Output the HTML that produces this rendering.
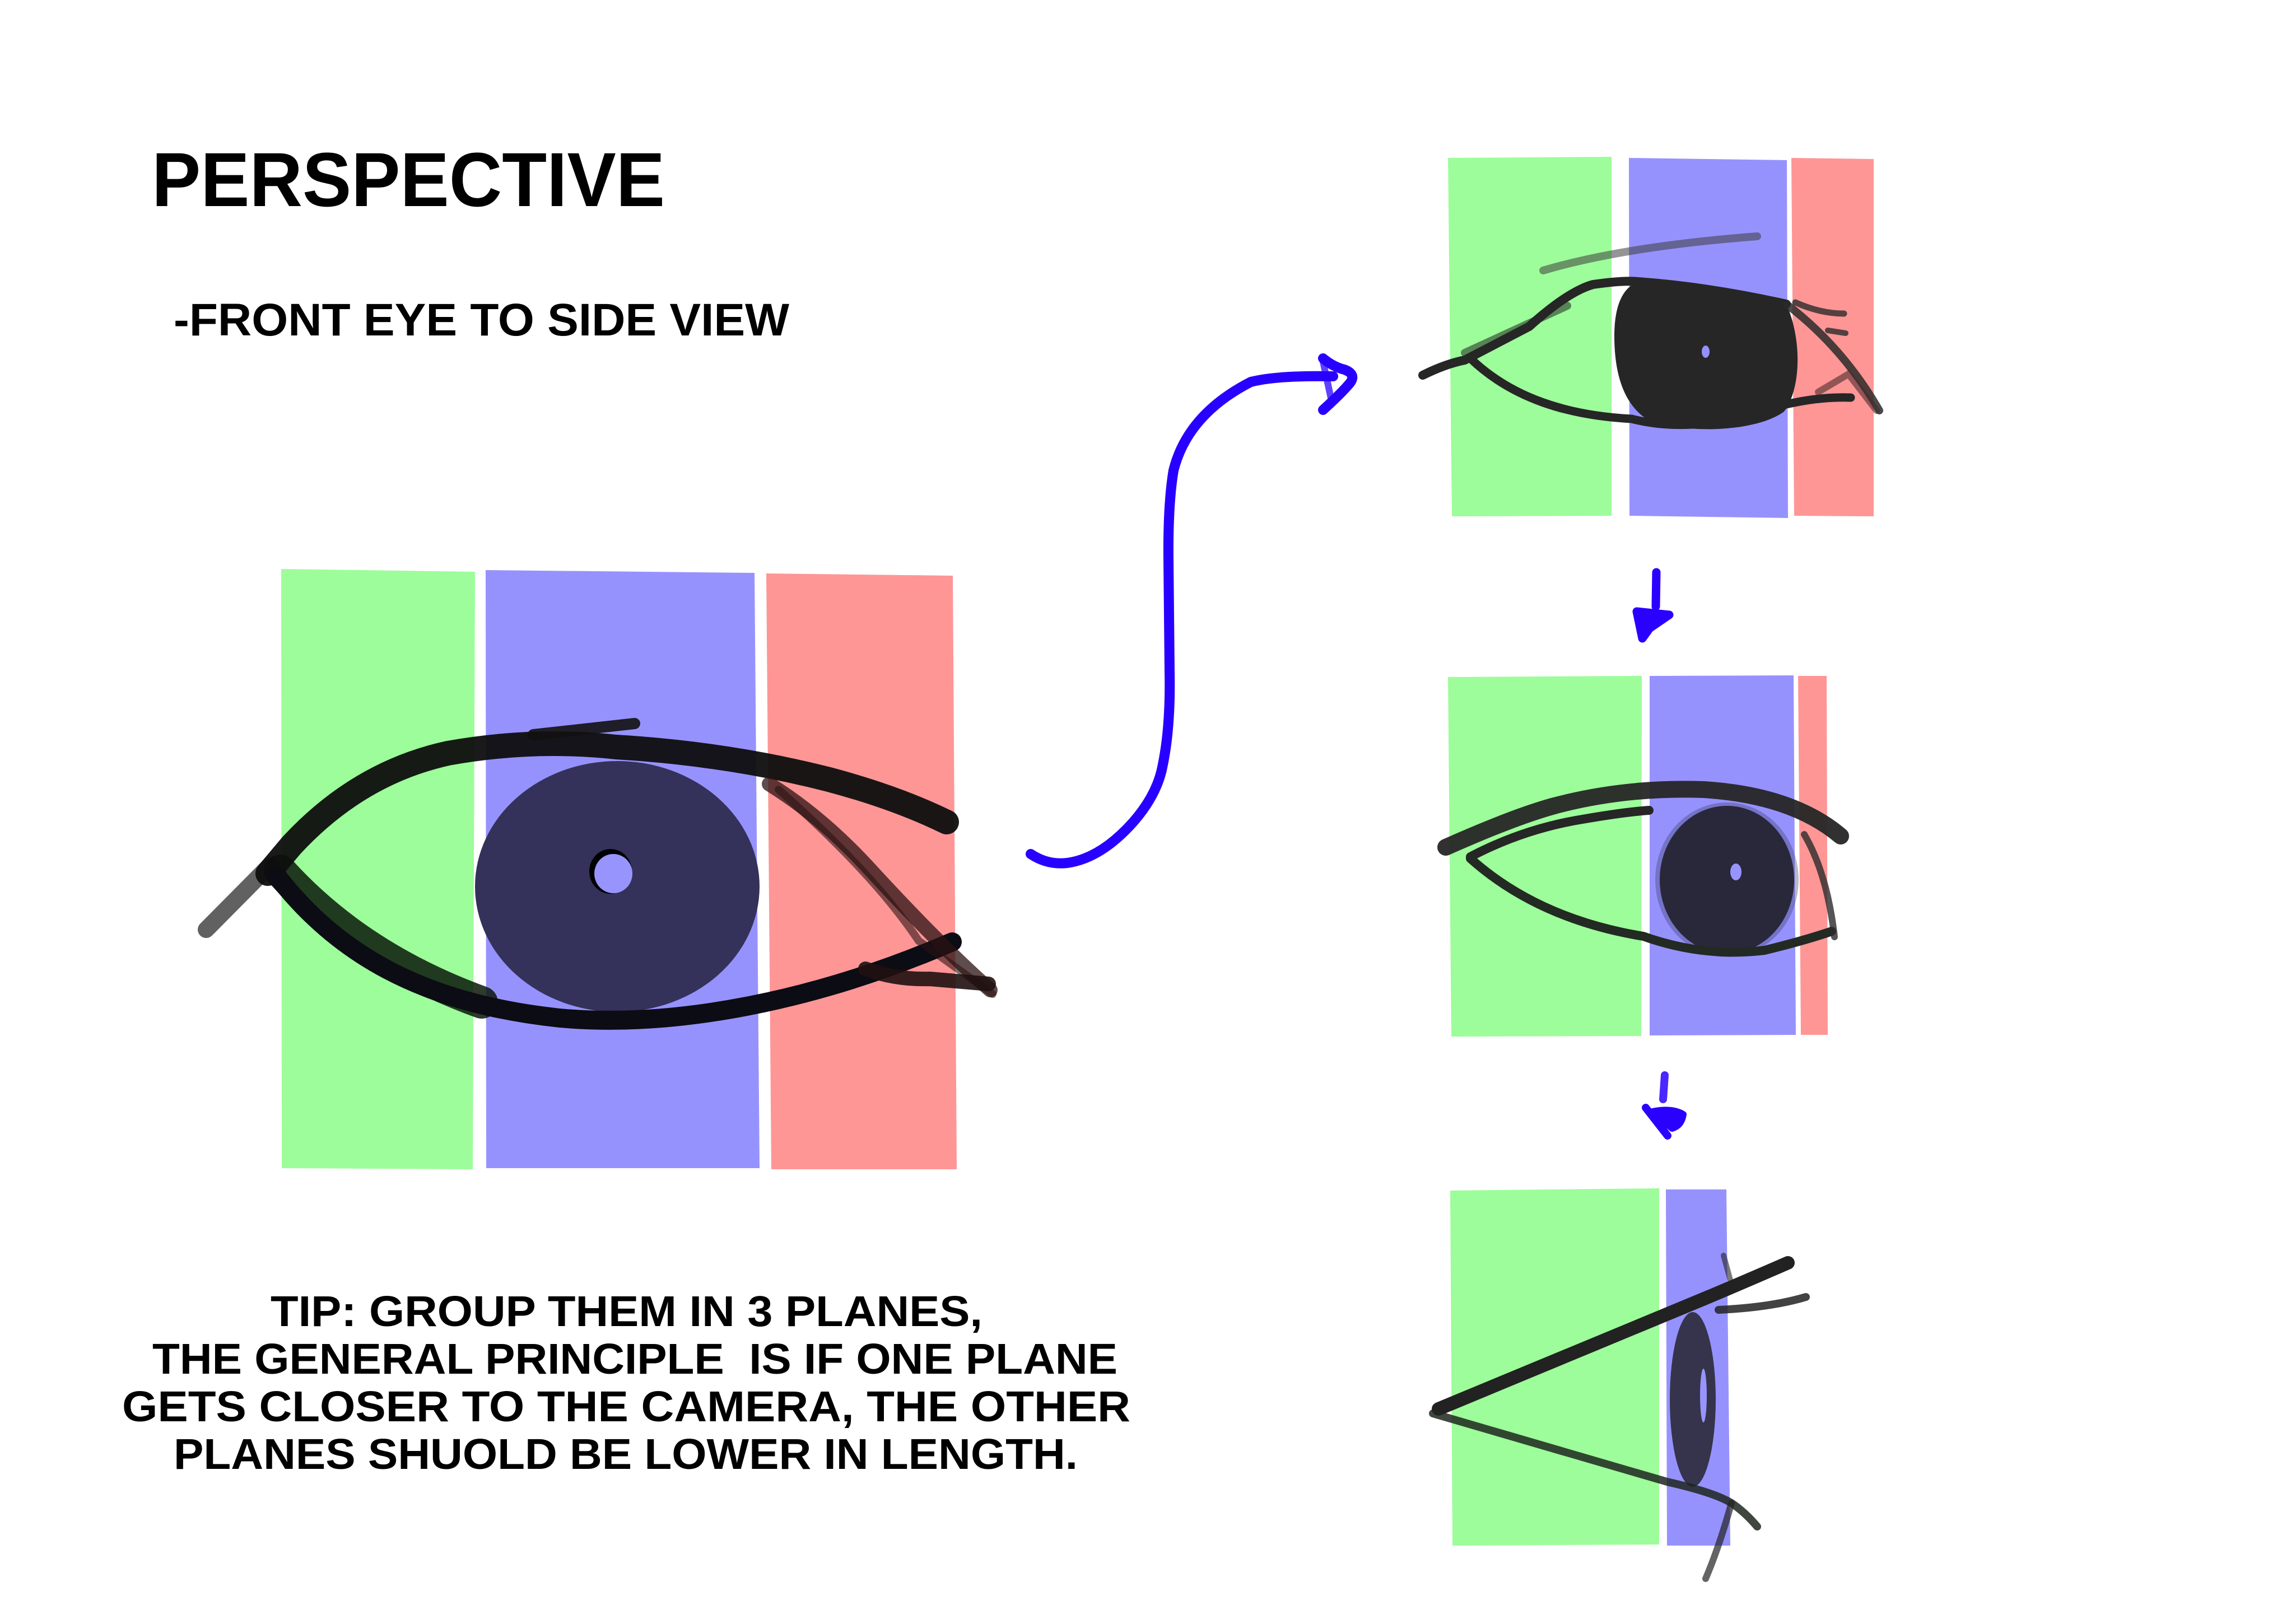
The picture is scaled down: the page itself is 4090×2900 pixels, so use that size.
<!DOCTYPE html>
<html>
<head>
<meta charset="utf-8">
<style>
  html,body{margin:0;padding:0;background:#fff;}
  body{width:4090px;height:2900px;overflow:hidden;}
  svg{display:block;}
  text{font-family:"Liberation Sans", "DejaVu Sans", sans-serif;font-weight:bold;fill:#000;}
</style>
</head>
<body>
<svg width="4090" height="2900" viewBox="0 0 4090 2900" xmlns="http://www.w3.org/2000/svg">
  <rect width="4090" height="2900" fill="#fff"/>

  <!-- Text -->
  <text x="271" y="368" font-size="137" textLength="916" lengthAdjust="spacingAndGlyphs">PERSPECTIVE</text>
  <text x="310" y="599" font-size="82" textLength="1099" lengthAdjust="spacingAndGlyphs">-FRONT EYE TO SIDE VIEW</text>

  <text x="483" y="2368" font-size="77" textLength="1271" lengthAdjust="spacingAndGlyphs">TIP: GROUP THEM IN 3 PLANES,</text>
  <text x="272" y="2453" font-size="77" textLength="1723" lengthAdjust="spacingAndGlyphs" xml:space="preserve">THE GENERAL PRINCIPLE  IS IF ONE PLANE</text>
  <text x="218" y="2538" font-size="77" textLength="1800" lengthAdjust="spacingAndGlyphs">GETS CLOSER TO THE CAMERA, THE OTHER</text>
  <text x="310" y="2623" font-size="77" textLength="1614" lengthAdjust="spacingAndGlyphs">PLANES SHUOLD BE LOWER IN LENGTH.</text>

  <!-- ===== Main panels ===== -->
  <polygon points="502,1016 848,1021 844,2088 503,2086" fill="#9dfd9a"/>
  <polygon points="867,1018 1347,1023 1356,2086 868,2086" fill="#9692fd"/>
  <polygon points="1368,1024 1701,1028 1708,2088 1377,2088" fill="#fe9696"/>

  <!-- Main eye -->
  <ellipse cx="1102" cy="1583" rx="254" ry="224" fill="#34325a"/>
  <ellipse cx="1090" cy="1556" rx="38" ry="40" fill="#000"/>
  <ellipse cx="1095" cy="1560" rx="34" ry="35" fill="#9894fd"/>

  <!-- tail -->
  <path d="M368,1660 L482,1545" stroke="#3a3a3a" stroke-width="30" stroke-linecap="round" fill="none" opacity="0.8"/>
  <!-- lower-left wedge -->
  <path d="M500,1555 Q640,1710 860,1790" stroke="#0b180b" stroke-width="58" stroke-linecap="round" fill="none" opacity="0.85"/>
  <!-- upper lid -->
  <path d="M478,1560 L520,1510 Q640,1380 800,1345 Q950,1318 1100,1334 Q1300,1346 1480,1392 Q1600,1424 1690,1468" stroke="#0e0e0e" stroke-width="44" stroke-linecap="round" fill="none" opacity="0.95"/>
  <path d="M952,1312 L1133,1292" stroke="#111" stroke-width="20" stroke-linecap="round" fill="none" opacity="0.9"/>
  <!-- lower lid -->
  <path d="M495,1565 C600,1700 750,1792 1000,1818 C1200,1836 1450,1790 1700,1682" stroke="#0c0c14" stroke-width="34" stroke-linecap="round" fill="none"/>
  <!-- right side strokes -->
  <path d="M1373,1400 Q1470,1460 1560,1560 Q1680,1690 1768,1768" stroke="#2a1212" stroke-width="26" stroke-linecap="round" fill="none" opacity="0.75"/>
  <path d="M1390,1410 Q1560,1560 1640,1680 L1772,1775" stroke="#2a1212" stroke-width="14" stroke-linecap="round" fill="none" opacity="0.6"/>
  <path d="M1545,1730 Q1600,1750 1660,1748 L1765,1757" stroke="#201010" stroke-width="26" stroke-linecap="round" fill="none" opacity="0.9"/>

  <!-- ===== Big arrow ===== -->
  <path d="M1840,1525 Q1870,1545 1905,1541 Q1965,1533 2023,1468 Q2065,1420 2075,1370 Q2090,1300 2088,1200 L2086,1000 Q2085,900 2095,840 Q2120,740 2233,682 Q2280,670 2380,672" stroke="#2800ff" stroke-width="18" stroke-linecap="round" fill="none"/>
  <path d="M2362,640 Q2380,655 2400,660 Q2422,668 2410,684 Q2395,702 2362,732" stroke="#2800ff" stroke-width="18" stroke-linecap="round" stroke-linejoin="round" fill="none"/>
  <path d="M2362,646 L2378,720" stroke="#2800ff" stroke-width="12" stroke-linecap="round" fill="none" opacity="0.75"/>

  <!-- ===== Row 1 panels ===== -->
  <polygon points="2585,282 2877,280 2877,921 2592,922" fill="#9dfd9a"/>
  <polygon points="2908,282 3190,286 3192,925 2909,921" fill="#9692fd"/>
  <polygon points="3198,282 3345,284 3345,922 3203,921" fill="#fe9696"/>

  <!-- Eye 1 -->
  <path d="M2755,483 Q2900,440 3137,422" stroke="#3c3c3c" stroke-width="14" stroke-linecap="round" fill="none" opacity="0.55"/>
  <path d="M2615,630 L2798,546" stroke="#263326" stroke-width="14" stroke-linecap="round" fill="none" opacity="0.6"/>
  <path d="M2882,600 C2882,540 2900,512 2925,503 L3189,543 C3215,600 3218,690 3185,735 C3130,775 2990,775 2935,745 C2895,715 2882,660 2882,600 Z" fill="#262626"/>
  <path d="M2540,670 Q2580,650 2615,643 L2730,583 Q2800,520 2844,508 Q2900,500 2925,503 Q3050,512 3189,543" stroke="#262626" stroke-width="16" stroke-linecap="round" fill="none"/>
  <path d="M2625,640 C2700,712 2800,742 2913,748 C2990,768 3080,760 3189,722 Q3250,708 3304,710" stroke="#262626" stroke-width="15" stroke-linecap="round" fill="none"/>
  <path d="M3189,543 Q3290,620 3355,733" stroke="#2a2a2a" stroke-width="14" stroke-linecap="round" fill="none" opacity="0.85"/>
  <path d="M3205,540 Q3250,560 3292,560" stroke="#2a2a2a" stroke-width="11" stroke-linecap="round" fill="none" opacity="0.8"/>
  <path d="M3263,590 L3295,595" stroke="#2a2a2a" stroke-width="10" stroke-linecap="round" fill="none" opacity="0.8"/>
  <path d="M3246,700 L3300,668 L3350,733" stroke="#4a2a2a" stroke-width="12" stroke-linecap="round" fill="none" opacity="0.6"/>
  <ellipse cx="3045" cy="628" rx="7" ry="11" fill="#9490fd"/>

  <!-- arrow 1 -->
  <path d="M2957,1022 L2956,1083" stroke="#2a00ff" stroke-width="15" stroke-linecap="round" fill="none"/>
  <polygon points="2922,1092 2980,1098 2945,1122 2932,1140" fill="#2a00ff" stroke="#2a00ff" stroke-width="15" stroke-linejoin="round"/>

  <!-- ===== Row 2 panels ===== -->
  <polygon points="2585,1209 2931,1207 2930,1850 2591,1851" fill="#9dfd9a"/>
  <polygon points="2945,1207 3202,1206 3206,1848 2945,1849" fill="#9692fd"/>
  <polygon points="3210,1207 3261,1207 3263,1848 3215,1848" fill="#fe9696"/>

  <!-- Eye 2 -->
  <ellipse cx="3083" cy="1571" rx="128" ry="138" fill="#3a3960" opacity="0.35"/>
  <ellipse cx="3083" cy="1571" rx="120" ry="132" fill="#29283a"/>
  <ellipse cx="3099" cy="1557" rx="10" ry="15" fill="#9894fd"/>
  <path d="M2581,1513 Q2700,1460 2771,1440 Q2900,1405 3042,1410 Q3200,1420 3286,1493" stroke="#262626" stroke-width="30" stroke-linecap="round" fill="none" opacity="0.95"/>
  <path d="M2625,1530 Q2720,1480 2825,1463 Q2900,1450 2944,1447" stroke="#262626" stroke-width="16" stroke-linecap="round" fill="none"/>
  <path d="M2625,1533 C2700,1600 2800,1650 2934,1672 Q3040,1710 3150,1697 Q3220,1680 3270,1663" stroke="#232a23" stroke-width="16" stroke-linecap="round" fill="none"/>
  <path d="M3221,1490 Q3262,1560 3275,1673" stroke="#2a2a2a" stroke-width="12" stroke-linecap="round" fill="none" opacity="0.8"/>

  <!-- arrow 2 -->
  <path d="M2972,1920 L2969,1963" stroke="#2a00ff" stroke-width="14" stroke-linecap="round" fill="none" opacity="0.85"/>
  <path d="M2938,1978 L2977,2028" stroke="#2a00ff" stroke-width="14" stroke-linecap="round" fill="none"/>
  <path d="M2950,1985 Q2985,1978 3005,1990 Q3002,2010 2985,2015 Z" fill="#2a00ff" stroke="#2a00ff" stroke-width="12" stroke-linejoin="round"/>

  <!-- ===== Row 3 panels ===== -->
  <polygon points="2589,2126 2962,2122 2962,2758 2593,2760" fill="#9dfd9a"/>
  <polygon points="2974,2124 3082,2124 3089,2760 2976,2760" fill="#9692fd"/>

  <!-- Eye 3 -->
  <ellipse cx="3022" cy="2499" rx="41" ry="156" fill="#2a2a38" opacity="0.9"/>
  <ellipse cx="3041" cy="2492" rx="6" ry="48" fill="#9894fd"/>
  <path d="M2568,2516 L3045,2318 Q3100,2295 3192,2255" stroke="#222" stroke-width="24" stroke-linecap="round" fill="none"/>
  <path d="M3068,2339 Q3160,2335 3224,2316" stroke="#222" stroke-width="14" stroke-linecap="round" fill="none" opacity="0.85"/>
  <path d="M3077,2242 L3091,2293" stroke="#222" stroke-width="10" stroke-linecap="round" fill="none" opacity="0.6"/>
  <path d="M2558,2524 Q2700,2565 2976,2646 Q3060,2665 3091,2684 Q3115,2700 3137,2726" stroke="#1e261e" stroke-width="14" stroke-linecap="round" fill="none" opacity="0.85"/>
  <path d="M3091,2684 Q3070,2760 3045,2819" stroke="#222" stroke-width="12" stroke-linecap="round" fill="none" opacity="0.7"/>
</svg>
</body>
</html>
